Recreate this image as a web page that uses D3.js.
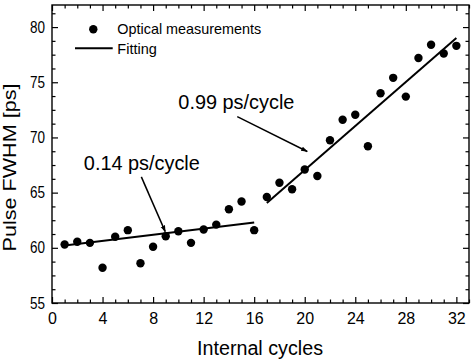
<!DOCTYPE html>
<html>
<head>
<meta charset="utf-8">
<script src="https://cdn.jsdelivr.net/npm/d3@7"></script>
<style>
  body { margin: 0; background: #fff; }
  svg { display: block; font-family: Arial, "Liberation Sans", sans-serif; }
</style>
</head>
<body>
<svg id="chart" width="474" height="364"></svg>
<script>
// ---- data ----
const cycles = [1,2,3,4,5,6,7,8,9,10,11,12,13,14,15,16,17,18,19,20,21,22,23,24,25,26,27,28,29,30,31,32];
const fwhm = [60.3,60.55,60.45,58.2,61.0,61.6,58.6,60.1,61.05,61.5,60.45,61.66,62.1,63.5,64.2,61.6,
              64.6,65.9,65.3,67.1,66.5,69.75,71.6,72.05,69.2,74.0,75.4,73.7,77.2,78.4,77.6,78.3];
const fit1 = [[1, 60.2], [16, 62.3]];
const fit2 = [[17, 64.05], [32, 79.0]];
const xTicks = [0,4,8,12,16,20,24,28,32];
const yTicks = [55,60,65,70,75,80];
const annoLabels = ["0.14 ps/cycle", "0.99 ps/cycle"];
const annoTextPos = [[2.52, 67.07], [10.0, 72.6]];
const annoArrows = [[[7.07, 66.43], [8.96, 61.47]], [[14.66, 71.88], [20.2, 68.73]]];
const legendLabels = ["Optical measurements", "Fitting"];

// ---- layout ----
const svg = d3.select("#chart");
const L = 52, R = 469, T = 5, B = 303;
const x = d3.scaleLinear().domain([0, 33]).range([L, R]);
const y = d3.scaleLinear().domain([55, 82]).range([B, T]);

const xMinor = d3.range(0, 34, 1).filter(v => v % 4 !== 0);
const yMinor = d3.range(55, 82.01, 1.25).filter(v => Math.abs(v % 5) > 1e-6);

// frame
svg.append("rect").attr("x", L).attr("y", T).attr("width", R - L).attr("height", B - T)
  .attr("fill", "none").attr("stroke", "#000").attr("stroke-width", 1.4);

// axes (ticks inward)
const tickStyle = g => { g.select(".domain").remove(); g.selectAll("line").attr("stroke", "#000").attr("stroke-width", 1.2); };
svg.append("g").attr("transform", `translate(0,${B})`)
  .call(d3.axisBottom(x).tickValues(xTicks).tickSizeInner(-6).tickSizeOuter(0).tickPadding(10).tickFormat(d3.format("d")))
  .call(tickStyle)
  .call(g => g.selectAll("text").attr("font-size", 16).attr("fill", "#000").attr("font-family", "Arial, Liberation Sans, sans-serif"));
svg.append("g").attr("transform", `translate(0,${B})`)
  .call(d3.axisBottom(x).tickValues(xMinor).tickSizeInner(-3.5).tickSizeOuter(0).tickFormat(""))
  .call(tickStyle);
svg.append("g").attr("transform", `translate(0,${T})`)
  .call(d3.axisTop(x).tickValues(xTicks).tickSizeInner(-6).tickSizeOuter(0).tickFormat(""))
  .call(tickStyle);
svg.append("g").attr("transform", `translate(0,${T})`)
  .call(d3.axisTop(x).tickValues(xMinor).tickSizeInner(-3.5).tickSizeOuter(0).tickFormat(""))
  .call(tickStyle);

svg.append("g").attr("transform", `translate(${L},0)`)
  .call(d3.axisLeft(y).tickValues(yTicks).tickSizeInner(-6).tickSizeOuter(0).tickPadding(7).tickFormat(d3.format("d")))
  .call(tickStyle)
  .call(g => g.selectAll("text").attr("font-size", 16).attr("fill", "#000").attr("font-family", "Arial, Liberation Sans, sans-serif")
    .attr("textLength", 15).attr("lengthAdjust", "spacingAndGlyphs"));
svg.append("g").attr("transform", `translate(${L},0)`)
  .call(d3.axisLeft(y).tickValues(yMinor).tickSizeInner(-3.5).tickSizeOuter(0).tickFormat(""))
  .call(tickStyle);
svg.append("g").attr("transform", `translate(${R},0)`)
  .call(d3.axisRight(y).tickValues(yTicks).tickSizeInner(-6).tickSizeOuter(0).tickFormat(""))
  .call(tickStyle);
svg.append("g").attr("transform", `translate(${R},0)`)
  .call(d3.axisRight(y).tickValues(yMinor).tickSizeInner(-3.5).tickSizeOuter(0).tickFormat(""))
  .call(tickStyle);

// axis titles
svg.append("text").attr("x", (197 + 323) / 2).attr("y", 355).attr("text-anchor", "middle")
  .attr("font-size", 19.5).attr("textLength", 126).attr("lengthAdjust", "spacingAndGlyphs")
  .text("Internal cycles");
svg.append("text").attr("transform", `translate(16,${(83 + 252) / 2}) rotate(-90)`).attr("text-anchor", "middle")
  .attr("font-size", 17.5).attr("textLength", 168).attr("lengthAdjust", "spacingAndGlyphs")
  .text("Pulse FWHM [ps]");

// fit lines
const line = d3.line().x(d => x(d[0])).y(d => y(d[1]));
[fit1, fit2].forEach(f => svg.append("path").attr("d", line(f)).attr("fill", "none")
  .attr("stroke", "#000").attr("stroke-width", 2));

// points
svg.append("g").selectAll("circle").data(cycles).join("circle")
  .attr("cx", d => x(d)).attr("cy", (d, i) => y(fwhm[i])).attr("r", 4.2).attr("fill", "#000");

// annotations
const defs = svg.append("defs");
defs.append("marker").attr("id", "arr").attr("viewBox", "0 0 10 10").attr("refX", 9).attr("refY", 5)
  .attr("markerWidth", 4.5).attr("markerHeight", 4.5).attr("orient", "auto")
  .append("path").attr("d", "M0,1.5 L10,5 L0,8.5 Z").attr("fill", "#000");
annoArrows.forEach(a => svg.append("path").attr("d", line(a)).attr("stroke", "#000")
  .attr("stroke-width", 1.5).attr("fill", "none").attr("marker-end", "url(#arr)"));
annoLabels.forEach((t, i) => svg.append("text").attr("x", x(annoTextPos[i][0])).attr("y", y(annoTextPos[i][1]))
  .attr("font-size", 19.5).attr("textLength", 116).attr("lengthAdjust", "spacingAndGlyphs").text(t));

// legend
svg.append("circle").attr("cx", 93.3).attr("cy", 29.3).attr("r", 4.2).attr("fill", "#000");
svg.append("text").attr("x", 117.3).attr("y", 34.3).attr("font-size", 14.5)
  .attr("textLength", 144).attr("lengthAdjust", "spacingAndGlyphs").text(legendLabels[0]);
svg.append("line").attr("x1", 75).attr("x2", 112.7).attr("y1", 48.3).attr("y2", 48.3)
  .attr("stroke", "#000").attr("stroke-width", 2);
svg.append("text").attr("x", 117.3).attr("y", 53.5).attr("font-size", 14.5).text(legendLabels[1]);
</script>
</body>
</html>
